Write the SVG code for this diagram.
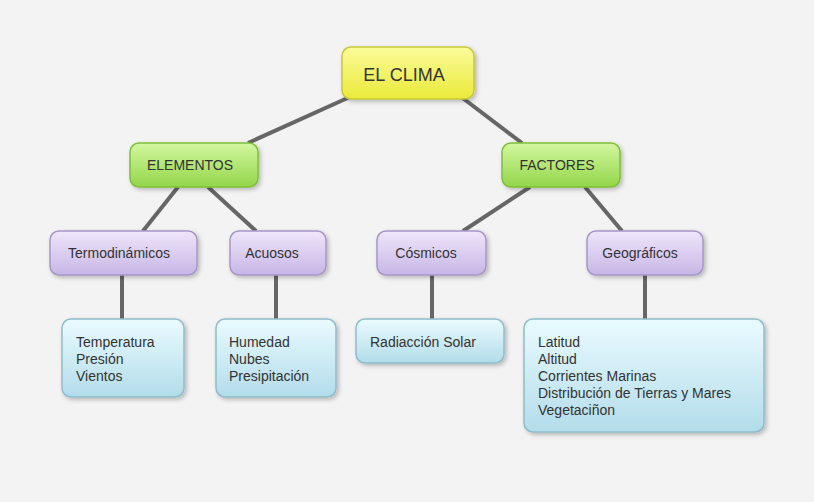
<svg xmlns="http://www.w3.org/2000/svg" width="814" height="502" viewBox="0 0 814 502">
<defs>
<linearGradient id="gy" x1="0" y1="0" x2="0" y2="1"><stop offset="0" stop-color="#fbfb9a"/><stop offset="1" stop-color="#eaea3a"/></linearGradient>
<linearGradient id="gg" x1="0" y1="0" x2="0" y2="1"><stop offset="0" stop-color="#d4f7a0"/><stop offset="1" stop-color="#93d64a"/></linearGradient>
<linearGradient id="gp" x1="0" y1="0" x2="0" y2="1"><stop offset="0" stop-color="#efe6fb"/><stop offset="1" stop-color="#c7b6e6"/></linearGradient>
<linearGradient id="gb" x1="0" y1="0" x2="0" y2="1"><stop offset="0" stop-color="#eafbff"/><stop offset="1" stop-color="#b2dcea"/></linearGradient>
<filter id="sh" x="-10%" y="-10%" width="130%" height="140%"><feDropShadow dx="2" dy="2" stdDeviation="2" flood-color="#000" flood-opacity="0.25"/></filter>
</defs>
<style>
text{font-family:"Liberation Sans",Arial,sans-serif;font-size:14px;fill:#333}
.c{text-anchor:middle}
rect{filter:url(#sh);stroke-width:1.5}
.y{fill:url(#gy);stroke:#c8c83a}
.g{fill:url(#gg);stroke:#7fbf3a}
.p{fill:url(#gp);stroke:#a696c8}
.b{fill:url(#gb);stroke:#8fbccc}
#connectors line{stroke:#666;stroke-width:4}
</style>
<rect width="814" height="502" fill="#f3f3f3" style="filter:none"/>
<g id="connectors">
<line x1="352" y1="96" x2="248" y2="143"/>
<line x1="460" y1="96" x2="522" y2="143"/>
<line x1="178" y1="187" x2="143" y2="231"/>
<line x1="208" y1="187" x2="256" y2="231"/>
<line x1="530" y1="187" x2="463" y2="231"/>
<line x1="585" y1="187" x2="622" y2="231"/>
<line x1="122" y1="275" x2="122" y2="319"/>
<line x1="276" y1="275" x2="276" y2="319"/>
<line x1="432" y1="275" x2="432" y2="319"/>
<line x1="645" y1="275" x2="645" y2="319"/>
</g>
<g id="clima"><rect class="y" x="342" y="47" width="132" height="52" rx="9"/><text class="c" x="404" y="81" style="font-size:18px">EL CLIMA</text></g>
<g id="elementos"><rect class="g" x="130" y="143" width="128" height="44" rx="9"/><text class="c" x="190" y="170">ELEMENTOS</text></g>
<g id="factores"><rect class="g" x="502" y="143" width="118" height="44" rx="9"/><text class="c" x="557" y="170">FACTORES</text></g>
<g id="termo"><rect class="p" x="50" y="231" width="147" height="44" rx="9"/><text class="c" x="119" y="258">Termodinámicos</text></g>
<g id="acuosos"><rect class="p" x="230" y="231" width="96" height="44" rx="9"/><text class="c" x="272" y="258">Acuosos</text></g>
<g id="cosmicos"><rect class="p" x="377" y="231" width="109" height="44" rx="9"/><text class="c" x="426" y="258">Cósmicos</text></g>
<g id="geograficos"><rect class="p" x="587" y="231" width="116" height="44" rx="9"/><text class="c" x="640" y="258">Geográficos</text></g>
<g id="temp"><rect class="b" x="62" y="319" width="122" height="78" rx="9"/><text x="76" y="347">Temperatura</text><text x="76" y="364">Presión</text><text x="76" y="381">Vientos</text></g>
<g id="hum"><rect class="b" x="216" y="319" width="120" height="78" rx="9"/><text x="229" y="347">Humedad</text><text x="229" y="364">Nubes</text><text x="229" y="381">Presipitación</text></g>
<g id="rad"><rect class="b" x="356" y="319" width="148" height="44" rx="9"/><text x="370" y="347">Radiacción Solar</text></g>
<g id="lat"><rect class="b" x="524" y="319" width="240" height="113" rx="9"/><text x="538" y="347">Latitud</text><text x="538" y="364">Altitud</text><text x="538" y="381">Corrientes Marinas</text><text x="538" y="398">Distribución de Tierras y Mares</text><text x="538" y="415"> Vegetaciñon</text></g>
</svg>
